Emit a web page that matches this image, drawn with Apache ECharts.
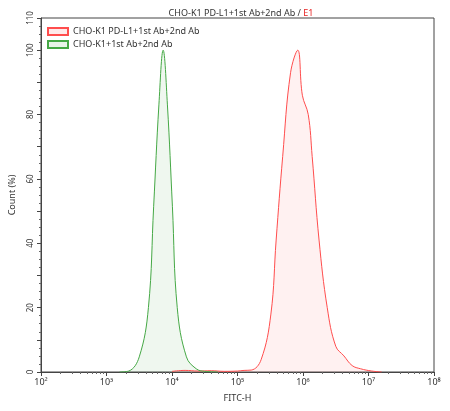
<!DOCTYPE html>
<html><head><meta charset="utf-8">
<script src="https://cdn.jsdelivr.net/npm/echarts@6/dist/echarts.min.js"></script>
<style>html,body{margin:0;padding:0;background:#fff}#c{width:450px;height:411px}</style>
</head><body><div id="c"></div>
<script>
const seriesNames = ['CHO-K1 PD-L1+1st Ab+2nd Ab', 'CHO-K1+1st Ab+2nd Ab'];
// FITC-H values (log10 exponent) and Count (%)
const redLog = [4.0,4.2,4.4,4.6,4.8,5.0,5.1,5.21,5.36,5.51,5.59,5.69,5.81,5.92,5.99,6.08,6.14,6.245,6.37,6.5,6.625,6.75,6.88,7.05,7.2];
const redVal = [0.2,0.5,0.3,0.4,0.2,0.3,0.5,0.6,3.8,18,41,67,93,100,86,80,67,41,20,8,5,2,1,0.3,0];
const greenLog = [3.2,3.34,3.5,3.64,3.72,3.8,3.865,3.93,4.006,4.08,4.22,4.37,4.5,4.7];
const greenVal = [0,0.3,4.7,20,51.5,83,100,83,51.5,20,4.7,1,0.2,0];
const xTickLabels = {2:'10²',3:'10³',4:'10⁴',5:'10⁵',6:'10⁶',7:'10⁷',8:'10⁸'};

const toPts = (l, v) => l.map((e, i) => [Math.pow(10, e), v[i]]);
const font = 'Noto Sans';
const chart = echarts.init(document.getElementById('c'));
chart.setOption({
  animation: false,
  textStyle: {fontFamily: font},
  title: {text: '{a|CHO-K1 PD-L1+1st Ab+2nd Ab / }{b|E1}', left: 236, top: 4, textAlign: 'center',
    textStyle: {fontWeight: 'normal', rich: {a: {fontSize: 9, color: '#333', fontFamily: font, fontWeight: 'normal'}, b: {fontSize: 9, color: '#e62020', fontFamily: font, fontWeight: 'normal'}}}},
  legend: {orient: 'vertical', left: 42, top: 22, itemWidth: 20, itemHeight: 7, itemGap: 4, icon: 'rect',
    textStyle: {fontSize: 9, color: '#333'}, data: seriesNames},
  grid: {left: 39, right: 16, top: 18, bottom: 39, show: true, borderColor: '#444', borderWidth: 1},
  xAxis: {type: 'log', logBase: 10, min: 100, max: 1e8, name: 'FITC-H', nameLocation: 'middle', nameGap: 22,
    nameTextStyle: {fontSize: 9, color: '#333'},
    axisLine: {lineStyle: {color: '#444'}}, axisTick: {length: 4, lineStyle: {color: '#444'}},
    minorTick: {show: true, splitNumber: 9, length: 2, lineStyle: {color: '#666'}},
    splitLine: {show: false},
    axisLabel: {fontSize: 9, color: '#333', margin: 6, formatter: v => xTickLabels[Math.round(Math.log10(v))] || ''}},
  yAxis: {type: 'value', min: 0, max: 110, interval: 10, name: 'Count (%)', nameLocation: 'middle', nameGap: 24,
    nameTextStyle: {fontSize: 9, color: '#333'},
    axisLine: {show: true, lineStyle: {color: '#444'}}, axisTick: {length: 4, lineStyle: {color: '#444'}},
    minorTick: {show: true, splitNumber: 4, length: 2, lineStyle: {color: '#666'}},
    splitLine: {show: false},
    axisLabel: {fontSize: 8, color: '#333', rotate: 90, margin: 6,
      formatter: v => (v % 20 === 0 || v === 110) ? String(v) : ''}},
  series: [
    {name: seriesNames[0], type: 'line', smooth: 0.4, symbol: 'none', data: toPts(redLog, redVal),
      lineStyle: {color: '#ff4d4d', width: 1}, itemStyle: {color: 'rgba(255,77,77,0.12)', borderColor: '#ff4d4d', borderWidth: 1},
      areaStyle: {color: 'rgba(255,120,120,0.15)'}},
    {name: seriesNames[1], type: 'line', smooth: 0.4, symbol: 'none', data: toPts(greenLog, greenVal),
      lineStyle: {color: '#45a845', width: 1}, itemStyle: {color: 'rgba(69,168,69,0.12)', borderColor: '#45a845', borderWidth: 1},
      areaStyle: {color: 'rgba(69,168,69,0.12)'}}
  ]
});
</script></body></html>
